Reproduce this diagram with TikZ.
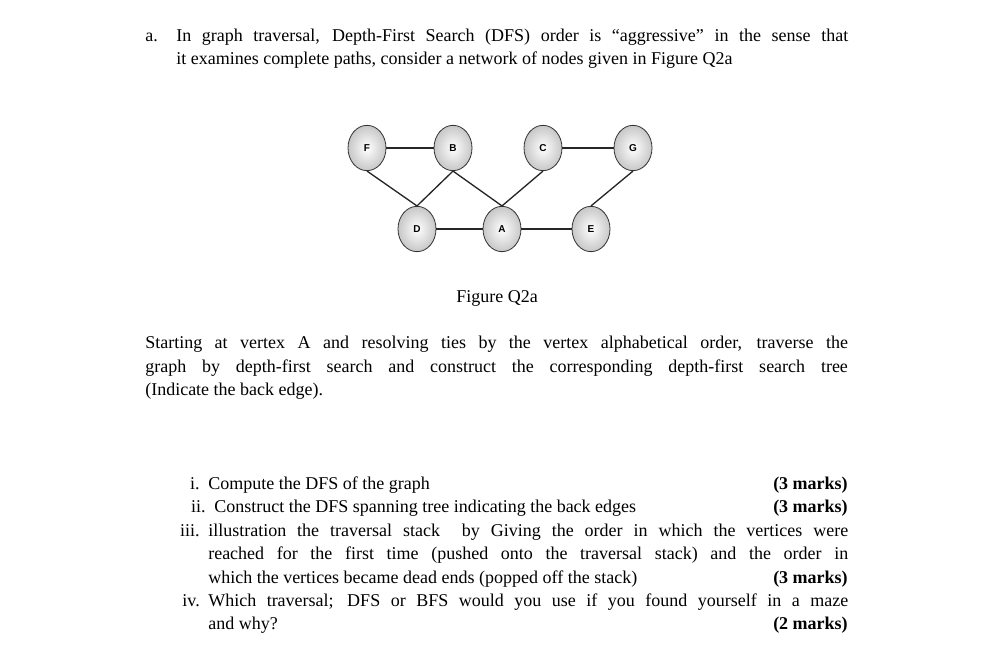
\documentclass[tikz,border=0pt]{standalone}
\usepackage{fontspec}
\setmainfont{Liberation Serif}
\setsansfont{Liberation Sans}
\usetikzlibrary{shapes.geometric}
\begin{document}
\begin{tikzpicture}[x=0.75pt,y=-0.75pt,
  txt/.style={anchor=base west,inner sep=0,font=\fontsize{13.5}{16}\selectfont},
  txr/.style={anchor=base east,inner sep=0,font=\fontsize{13.5}{16}\selectfont\bfseries},
  vtx/.style={ellipse,draw=black!80,line width=0.6pt,minimum width=28.5pt,minimum height=34pt,inner sep=0,
    inner color=white,outer color=black!22,font=\sffamily\bfseries\fontsize{7.5}{8}\selectfont},
  edge/.style={line width=1pt,black!85}]
\useasboundingbox (0,0) rectangle (996,656);
% graph
\node[vtx] (F) at (367,148) {F};
\node[vtx] (B) at (453,148) {B};
\node[vtx] (C) at (543,148) {C};
\node[vtx] (G) at (633,148) {G};
\node[vtx] (D) at (417,229) {D};
\node[vtx] (A) at (502,229) {A};
\node[vtx] (E) at (591,229) {E};
\draw[edge] (F) -- (B);
\draw[edge] (C) -- (G);
\draw[edge] (D) -- (A);
\draw[edge] (A) -- (E);
\draw[edge] (F.south) -- (D.north);
\draw[edge] (B.south) -- (D.north);
\draw[edge] (B.south) -- (A.north);
\draw[edge] (C.south) -- (A.north);
\draw[edge] (G.south) -- (E.north);
% text
\node[txt] (a) at (145,42) {a.};
\node[txt] (l1) at (176,42) {\makebox[504pt][s]{In graph traversal, Depth-First Search (DFS) order is “aggressive” in the sense that}};
\node[txt] (l2) at (176,65) {it examines complete paths, consider a network of nodes given in Figure Q2a};
\node[txt,anchor=base] (cap) at (497,302) {Figure Q2a};
\node[txt] (p1) at (145,348) {\makebox[527pt][s]{Starting at vertex A and resolving ties by the vertex alphabetical order, traverse the}};
\node[txt] (p2) at (145,372) {\makebox[527pt][s]{graph by depth-first search and construct the corresponding depth-first search tree}};
\node[txt] (p3) at (145,395) {(Indicate the back edge).};
\node[txt,anchor=base east] (n1) at (200,489) {i.};
\node[txt] (i1) at (208,489) {Compute the DFS of the graph};
\node[txr] (m1) at (848,489) {(3 marks)};
\node[txt,anchor=base east] (n2) at (206,512) {ii.};
\node[txt] (i2) at (214,512) {Construct the DFS spanning tree indicating the back edges};
\node[txr] (m2) at (848,512) {(3 marks)};
\node[txt,anchor=base east] (n3) at (200,536) {iii.};
\node[txt] (i3a) at (208,536) {\makebox[480pt][s]{illustration the traversal stack \ by Giving the order in which the vertices were}};
\node[txt] (i3b) at (208,559) {\makebox[480pt][s]{reached for the first time (pushed onto the traversal stack) and the order in}};
\node[txt] (i3c) at (208,583) {which the vertices became dead ends (popped off the stack)};
\node[txr] (m3) at (848,583) {(3 marks)};
\node[txt,anchor=base east] (n4) at (200,606) {iv.};
\node[txt] (i4a) at (208,606) {\makebox[480pt][s]{Which traversal; DFS or BFS would you use if you found yourself in a maze}};
\node[txt] (i4b) at (208,629) {and why?};
\node[txr] (m4) at (848,629) {(2 marks)};
\end{tikzpicture}
\end{document}
